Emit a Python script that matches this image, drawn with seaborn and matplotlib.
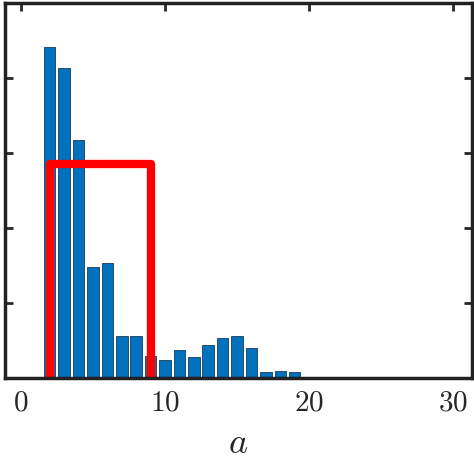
import matplotlib
matplotlib.use("Agg")
import matplotlib.pyplot as plt
import seaborn as sns
import numpy as np
import pandas as pd

a_vals = list(range(2, 20))
probs = [0.2207, 0.207, 0.159, 0.074, 0.077, 0.028, 0.028, 0.015, 0.012, 0.019,
         0.014, 0.022, 0.027, 0.028, 0.020, 0.004, 0.005, 0.004]
uni_x = [2, 2, 9, 9]
uni_y = [0, 1/7, 1/7, 0]

sns.set_style("white")
plt.rcParams["mathtext.fontset"] = "cm"
plt.rcParams["font.family"] = ["cmr10", "DejaVu Serif"]
plt.rcParams["axes.formatter.use_mathtext"] = True

fig = plt.figure(figsize=(4.74, 4.74), dpi=100)
ax = fig.add_axes([5/474, 96/474, 467/474, 375/474])
df = pd.DataFrame({"a": a_vals, "p": probs})
ax.bar(df["a"], df["p"], width=0.8, color="#0072BD", edgecolor="#1a3a5a", linewidth=0.6)
sns.lineplot(x=uni_x, y=uni_y, sort=False, color="#FF0000", linewidth=6, ax=ax,
             estimator=None)
ax.set_xlim(-1.1, 31.3)
ax.set_ylim(0, 0.25)
ax.set_xticks([0, 10, 20, 30])
ax.set_yticks([0, 0.05, 0.1, 0.15, 0.2, 0.25])
ax.set_yticklabels([])
ax.tick_params(axis="x", labelsize=21, direction="in", length=6, width=2, top=True, pad=9)
ax.tick_params(axis="y", direction="in", length=6, width=2, right=True, left=True)
for s in ax.spines.values():
    s.set_linewidth(2.5)
    s.set_color("#222222")
ax.set_xlabel("$a$", fontsize=26, labelpad=8)
fig.savefig("out.png", dpi=100)
